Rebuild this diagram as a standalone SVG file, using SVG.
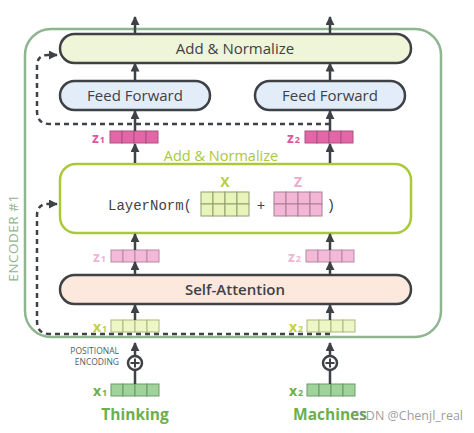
<svg xmlns="http://www.w3.org/2000/svg" width="474" height="433" viewBox="0 0 474 433">
<style>
.box{stroke:#3e4246;stroke-width:2.5}
.t{font-family:"Open Sans","Noto Sans","Liberation Sans",sans-serif;fill:#3e4246;text-anchor:middle}
.ln{stroke:#3e4246;stroke-width:2.5;fill:none}
.dash{stroke:#3e4246;stroke-width:2.5;fill:none;stroke-dasharray:5 4}
.lab{font-family:"Open Sans","Noto Sans","Liberation Sans",sans-serif;font-weight:bold;font-size:14px}
.zd{fill:#e466a8;stroke:#a9527f;stroke-width:1}
.zp{fill:#f4b8d8;stroke:#b58aa2;stroke-width:1}
.xp{fill:#eef5c6;stroke:#a9b77a;stroke-width:1}
.xg{fill:#9fd39a;stroke:#6a9a68;stroke-width:1}
.mx{fill:#e9f4bb;stroke:#8f9e6e;stroke-width:1}
.mz{fill:#f3b6d6;stroke:#a77f93;stroke-width:1}
</style>
<defs>
<marker id="ah" viewBox="0 0 10 10" refX="9" refY="5" markerWidth="9" markerHeight="9" markerUnits="userSpaceOnUse" orient="auto">
<path d="M0,0 L10,5 L0,10 z" fill="#3e4246"/>
</marker>
<g id="vec"><rect x="0" y="0" width="12" height="12"/><rect x="12" y="0" width="12" height="12"/><rect x="24" y="0" width="12" height="12"/><rect x="36" y="0" width="12" height="12"/></g>
<g id="mat"><rect x="0" y="0" width="12" height="12"/><rect x="12" y="0" width="12" height="12"/><rect x="24" y="0" width="12" height="12"/><rect x="36" y="0" width="12" height="12"/><rect x="0" y="12" width="12" height="12"/><rect x="12" y="12" width="12" height="12"/><rect x="24" y="12" width="12" height="12"/><rect x="36" y="12" width="12" height="12"/></g>
</defs>
<rect width="474" height="433" fill="#ffffff"/>

<g id="encoder">
<rect x="25" y="29" width="416" height="308" rx="26" fill="none" stroke="#8fb58f" stroke-width="2.5"/>
<text x="14" y="238" transform="rotate(-90 14 238)" font-family="'Open Sans','Noto Sans','Liberation Sans',sans-serif" font-size="13.5" fill="#8fb58f" text-anchor="middle" dominant-baseline="middle" letter-spacing="0.5">ENCODER #1</text>
</g>

<g id="add-norm-top">
<rect class="box" x="60" y="34" width="351" height="29" rx="14.5" fill="#eef5d8"/>
<text class="t" x="235" y="54" font-size="15">Add &amp; Normalize</text>
</g>

<g id="ff1">
<rect class="box" x="60" y="81" width="150" height="29" rx="14.5" fill="#e3edf9"/>
<text class="t" x="135" y="101" font-size="15">Feed Forward</text>
</g>
<g id="ff2">
<rect class="box" x="255" y="81" width="150" height="29" rx="14.5" fill="#e3edf9"/>
<text class="t" x="330" y="101" font-size="15">Feed Forward</text>
</g>

<g id="z1-out">
<use href="#vec" x="110" y="131" class="zd"/>
<text class="lab" x="92" y="143" fill="#e0559c">z<tspan font-size="9" dx="1">1</tspan></text>
</g>
<g id="z2-out">
<use href="#vec" x="305" y="131" class="zd"/>
<text class="lab" x="287" y="143" fill="#e0559c">z<tspan font-size="9" dx="1">2</tspan></text>
</g>

<g id="layernorm">
<text x="221" y="161" font-family="'Open Sans','Noto Sans','Liberation Sans',sans-serif" font-size="14.5" fill="#a9c93a" text-anchor="middle">Add &amp; Normalize</text>
<rect x="60" y="164" width="351" height="69" rx="16" fill="#ffffff" stroke="#a9c93a" stroke-width="2.5"/>
<text x="108" y="210" font-family="'Liberation Mono','DejaVu Sans Mono',monospace" font-size="14" fill="#3e4246">LayerNorm(</text>
<use href="#mat" x="201" y="192" class="mx"/>
<text x="225" y="187" font-family="'Open Sans','Noto Sans','Liberation Sans',sans-serif" font-size="14" font-weight="bold" fill="#b8cf3e" text-anchor="middle">X</text>
<text x="261" y="210" font-family="'Liberation Mono','DejaVu Sans Mono',monospace" font-size="14" fill="#3e4246" text-anchor="middle">+</text>
<use href="#mat" x="274" y="192" class="mz"/>
<text x="298" y="187" font-family="'Open Sans','Noto Sans','Liberation Sans',sans-serif" font-size="14" font-weight="bold" fill="#f0a8cc" text-anchor="middle">Z</text>
<text x="331" y="210" font-family="'Liberation Mono','DejaVu Sans Mono',monospace" font-size="14" fill="#3e4246" text-anchor="middle">)</text>
</g>

<g id="z1-in">
<use href="#vec" x="111" y="250" class="zp"/>
<text class="lab" x="93" y="262" fill="#f2b4d4">z<tspan font-size="9" dx="1">1</tspan></text>
</g>
<g id="z2-in">
<use href="#vec" x="306" y="250" class="zp"/>
<text class="lab" x="288" y="262" fill="#f2b4d4">z<tspan font-size="9" dx="1">2</tspan></text>
</g>

<g id="self-attention">
<rect class="box" x="60" y="275" width="351" height="29" rx="14.5" fill="#fce8dc"/>
<text class="t" x="235" y="295" font-size="15" font-weight="600">Self-Attention</text>
</g>

<g id="x1-in">
<use href="#vec" x="111" y="320" class="xp"/>
<text class="lab" x="93" y="332" fill="#c4cf45">x<tspan font-size="9" dx="1">1</tspan></text>
</g>
<g id="x2-in">
<use href="#vec" x="307" y="320" class="xp"/>
<text class="lab" x="289" y="332" fill="#c4cf45">x<tspan font-size="9" dx="1">2</tspan></text>
</g>

<g id="pos-enc">
<text x="119" y="354" font-family="'Open Sans','Noto Sans','Liberation Sans',sans-serif" font-size="8.5" fill="#555a5e" text-anchor="end">POSITIONAL</text>
<text x="119" y="365" font-family="'Open Sans','Noto Sans','Liberation Sans',sans-serif" font-size="8.5" fill="#555a5e" text-anchor="end">ENCODING</text>
<circle cx="135" cy="363" r="7" fill="#ffffff" stroke="#3e4246" stroke-width="2.5"/>
<path d="M130.5 363H139.5M135 358.5V367.5" stroke="#3e4246" stroke-width="2"/>
<circle cx="330" cy="363" r="7" fill="#ffffff" stroke="#3e4246" stroke-width="2.5"/>
<path d="M325.5 363H334.5M330 358.5V367.5" stroke="#3e4246" stroke-width="2"/>
</g>

<g id="x1-emb">
<use href="#vec" x="111" y="384" class="xg"/>
<text class="lab" x="93" y="396" fill="#6ab04c">x<tspan font-size="9" dx="1">1</tspan></text>
<text x="135" y="420" font-family="'Open Sans','Noto Sans','Liberation Sans',sans-serif" font-size="15.5" font-weight="bold" fill="#6ab04c" text-anchor="middle">Thinking</text>
</g>
<g id="x2-emb">
<use href="#vec" x="307" y="384" class="xg"/>
<text class="lab" x="289" y="396" fill="#6ab04c">x<tspan font-size="9" dx="1">2</tspan></text>
<text x="330" y="420" font-family="'Open Sans','Noto Sans','Liberation Sans',sans-serif" font-size="15.5" font-weight="bold" fill="#6ab04c" text-anchor="middle">Machines</text>
</g>

<g id="connectors">
<path class="ln" d="M135 34V17" marker-end="url(#ah)"/>
<path class="ln" d="M330 34V17" marker-end="url(#ah)"/>
<path class="ln" d="M135 81V63.5" marker-end="url(#ah)"/>
<path class="ln" d="M330 81V63.5" marker-end="url(#ah)"/>
<path class="ln" d="M135 131V111" marker-end="url(#ah)"/>
<path class="ln" d="M330 131V111" marker-end="url(#ah)"/>
<path class="ln" d="M135 163V144" marker-end="url(#ah)"/>
<path class="ln" d="M330 163V144" marker-end="url(#ah)"/>
<path class="ln" d="M135 250V234" marker-end="url(#ah)"/>
<path class="ln" d="M330 250V234" marker-end="url(#ah)"/>
<path class="ln" d="M135 275V262" marker-end="url(#ah)"/>
<path class="ln" d="M330 275V262" marker-end="url(#ah)"/>
<path class="ln" d="M135 320V305" marker-end="url(#ah)"/>
<path class="ln" d="M330 320V305" marker-end="url(#ah)"/>
<path class="ln" d="M135 356V343" marker-end="url(#ah)"/>
<path class="ln" d="M330 356V343" marker-end="url(#ah)"/>
<path class="ln" d="M135 384V370"/>
<path class="ln" d="M330 384V370"/>
<path class="dash" d="M330 124H50Q37 124 37 111V66Q37 55 48 55H57" marker-end="url(#ah)"/>
<path class="dash" d="M330 334H50Q37 334 37 321V216Q37 204 48 204H57" marker-end="url(#ah)"/>
</g>

<text x="463" y="420" font-family="'Open Sans','Noto Sans','Liberation Sans',sans-serif" font-size="12.5" fill="#8a8a8a" fill-opacity="0.85" text-anchor="end">CSDN @Chenjl_real</text>
</svg>
